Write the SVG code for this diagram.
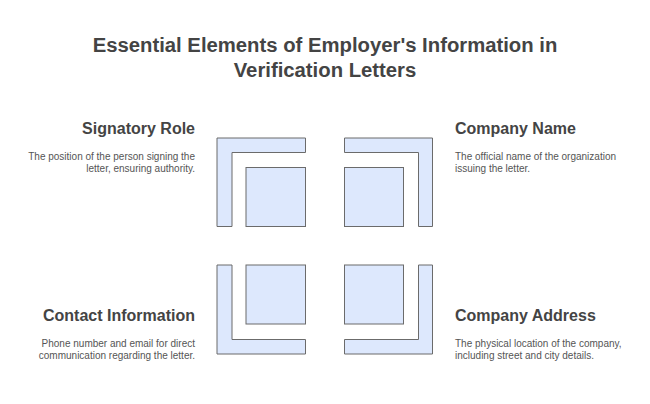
<svg xmlns="http://www.w3.org/2000/svg" width="650" height="404" viewBox="0 0 650 404">
<style>
.shape{fill:#dde8fd;stroke:#6b6b6b;stroke-width:1}
.title{font-family:"Liberation Sans",Arial,sans-serif;font-size:20.3px;font-weight:bold;fill:#444;text-anchor:middle}
.head{font-family:"Liberation Sans",Arial,sans-serif;font-size:16px;font-weight:bold;fill:#444}
.desc{font-family:"Liberation Sans",Arial,sans-serif;font-size:10px;fill:#555}
.r{text-anchor:end}
</style>
<rect width="650" height="404" fill="#fff"/>
<g id="title">
<text class="title" x="325" y="52">Essential Elements of Employer's Information in</text>
<text class="title" x="325" y="77">Verification Letters</text>
</g>
<g id="connectors"></g>
<g id="signatory-role">
<path class="shape" d="M217,138 H305.5 V152.5 H232 V226.5 H217 Z"/>
<rect class="shape" x="246" y="167.5" width="59.5" height="59"/>
<text class="head r" x="195" y="134">Signatory Role</text>
<text class="desc r" x="195" y="160">The position of the person signing the</text>
<text class="desc r" x="195" y="172">letter, ensuring authority.</text>
</g>
<g id="company-name">
<path class="shape" d="M344.5,138 H432.5 V226.5 H418.5 V152.5 H344.5 Z"/>
<rect class="shape" x="344.5" y="167.5" width="59" height="59"/>
<text class="head" x="455" y="134">Company Name</text>
<text class="desc" x="455" y="160">The official name of the organization</text>
<text class="desc" x="455" y="172">issuing the letter.</text>
</g>
<g id="contact-information">
<path class="shape" d="M217,265 H232 V339.5 H305.5 V354 H217 Z"/>
<rect class="shape" x="246" y="265" width="59.5" height="59"/>
<text class="head r" x="195" y="321">Contact Information</text>
<text class="desc r" x="195" y="347">Phone number and email for direct</text>
<text class="desc r" x="195" y="359">communication regarding the letter.</text>
</g>
<g id="company-address">
<path class="shape" d="M418.5,265 H432.5 V354 H344.5 V339.5 H418.5 Z"/>
<rect class="shape" x="344.5" y="265" width="59" height="59"/>
<text class="head" x="455" y="321">Company Address</text>
<text class="desc" x="455" y="347">The physical location of the company,</text>
<text class="desc" x="455" y="359">including street and city details.</text>
</g>
</svg>
